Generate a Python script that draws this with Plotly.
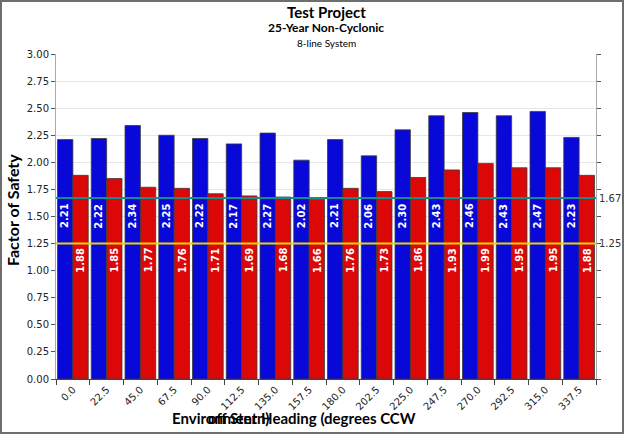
import plotly.graph_objects as go

# data
headings = ["0.0", "22.5", "45.0", "67.5", "90.0", "112.5", "135.0", "157.5",
            "180.0", "202.5", "225.0", "247.5", "270.0", "292.5", "315.0", "337.5"]
fos_intact = [2.21, 2.22, 2.34, 2.25, 2.22, 2.17, 2.27, 2.02,
              2.21, 2.06, 2.30, 2.43, 2.46, 2.43, 2.47, 2.23]
fos_damaged = [1.88, 1.85, 1.77, 1.76, 1.71, 1.69, 1.68, 1.66,
               1.76, 1.73, 1.86, 1.93, 1.99, 1.95, 1.95, 1.88]
limit_intact = 1.67
limit_damaged = 1.25
y_ticks = [0.00, 0.25, 0.50, 0.75, 1.00, 1.25, 1.50, 1.75, 2.00, 2.25, 2.50, 2.75, 3.00]

W, H = 624, 434
ML, MR, MT, MB = 56, 28, 54, 55
PW, PH = W - ML - MR, H - MT - MB

title_font = "Lato, Open Sans, sans-serif"
tick_font = "DejaVu Sans, Verdana, sans-serif"


def px_x(x):
    # window pixel -> paper x
    return (x - ML) / PW


def px_y(y):
    # window pixel -> paper y
    return 1 - (y - MT) / PH


fig = go.Figure()
fig.add_trace(go.Bar(x=headings, y=fos_intact, name="Intact",
                     marker=dict(color="#0808d8", line=dict(color="#3a3a3a", width=0.8))))
fig.add_trace(go.Bar(x=headings, y=fos_damaged, name="Damaged",
                     marker=dict(color="#dc0808", line=dict(color="#3a3a3a", width=0.8))))

# limit lines
fig.add_shape(type="line", xref="paper", yref="y", x0=0, x1=1, y0=limit_intact, y1=limit_intact,
              line=dict(color="#148c8c", width=2))
fig.add_shape(type="line", xref="paper", yref="y", x0=0, x1=1, y0=limit_damaged, y1=limit_damaged,
              line=dict(color="#e8d400", width=2))
for v in (limit_intact, limit_damaged):
    fig.add_annotation(xref="paper", yref="y", x=1, y=v, text=f"{v:.2f}", showarrow=False,
                       xanchor="left", yanchor="middle", xshift=1,
                       font=dict(family=tick_font, size=10, color="#333"))

# value labels, rotated, sitting just under the limit lines
# (category index used for x so the axis is not read as numbers)
half_bar = PW / len(headings) * (1 - 0.09) / 4
for i, (a, b) in enumerate(zip(fos_intact, fos_damaged)):
    fig.add_annotation(x=i, y=limit_intact - 0.03, text=f"{a:.2f}", showarrow=False, textangle=-90,
                       xshift=-half_bar, xanchor="center", yanchor="top",
                       font=dict(family=tick_font, size=10, color="white", weight="bold"))
    fig.add_annotation(x=i, y=limit_damaged - 0.02, text=f"{b:.2f}", showarrow=False, textangle=-90,
                       xshift=half_bar, xanchor="center", yanchor="top",
                       font=dict(family=tick_font, size=10, color="white", weight="bold"))

# titles
titles = [("<b>Test Project</b>", 12, 15), ("<b>25-Year Non-Cyclonic</b>", 27.5, 12),
          ("8-line System", 42.5, 10)]
for text, ypx, size in titles:
    fig.add_annotation(xref="paper", yref="paper", x=0.5, y=px_y(ypx), text=text, showarrow=False,
                       xanchor="center", yanchor="middle",
                       font=dict(family=title_font, size=size, color="black"))

# axis titles (x title is drawn as two overlapping lines, as in the source)
fig.add_annotation(xref="paper", yref="paper", x=px_x(294), y=px_y(418),
                   text="<b>Environment Heading (degrees CCW</b>", showarrow=False,
                   xanchor="center", yanchor="middle",
                   font=dict(family=title_font, size=15, color="black"))
fig.add_annotation(xref="paper", yref="paper", x=px_x(238), y=px_y(418),
                   text="<b>off Stern)</b>", showarrow=False,
                   xanchor="center", yanchor="middle",
                   font=dict(family=title_font, size=15, color="black"))
fig.add_annotation(xref="paper", yref="paper", x=px_x(12), y=px_y(210), textangle=-90,
                   text="<b>Factor of Safety</b>", showarrow=False,
                   xanchor="center", yanchor="middle",
                   font=dict(family=title_font, size=16, color="black"))

# outer frame
fig.add_shape(type="rect", xref="paper", yref="paper",
              x0=px_x(1), x1=px_x(W - 1), y0=px_y(H - 1), y1=px_y(1),
              line=dict(color="#6e6e6e", width=2), layer="below")

fig.update_layout(
    width=W, height=H, barmode="group", bargap=0.09, bargroupgap=0,
    margin=dict(l=ML, r=MR, t=MT, b=MB), showlegend=False,
    paper_bgcolor="white", plot_bgcolor="white",
    xaxis=dict(type="category", range=[-0.5, len(headings) - 0.5], tickangle=-45,
               ticks="outside", tickson="boundaries", ticklen=5,
               tickcolor="#444", showline=True, linecolor="#444", linewidth=1,
               tickfont=dict(family=tick_font, size=10, color="#222"), showgrid=False),
    yaxis=dict(range=[0, 3], tickvals=y_ticks, ticktext=[f"{v:.2f}" for v in y_ticks],
               ticks="outside", ticklen=4, tickcolor="#555", showline=True, linecolor="#aaa",
               mirror="ticks", gridcolor="#e6e6e6", zeroline=False,
               tickfont=dict(family=tick_font, size=10, color="#222")),
)

# drop the browser's default body margin so the figure sits at the window edge
fig.write_html("out.html", config={"displayModeBar": False},
               post_script="document.body.style.margin = '0';")
